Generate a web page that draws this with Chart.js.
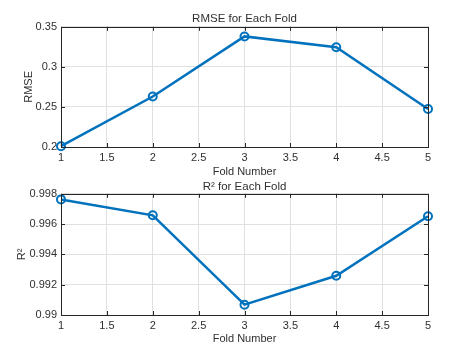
<!DOCTYPE html>
<html><head><meta charset="utf-8">
<script src="https://cdn.jsdelivr.net/npm/chart.js@4.4.0/dist/chart.umd.min.js"></script>
<style>
html,body{margin:0;padding:0;background:#fff;width:474px;height:355px;overflow:hidden;}
.box{position:absolute;left:0;width:474px;}
</style></head>
<body>
<div class="box" style="top:0;height:182px;"><canvas id="c1"></canvas></div>
<div class="box" style="top:178px;height:177px;"><canvas id="c2"></canvas></div>
<script>
const folds = [1, 2, 3, 4, 5];
const rmse = [0.201, 0.263, 0.338, 0.3245, 0.2475];
const r2 = [0.99763, 0.99658, 0.99068, 0.99259, 0.99652];
const xTicks = [1, 1.5, 2, 2.5, 3, 3.5, 4, 4.5, 5];
const xTickLabels = ['1', '1.5', '2', '2.5', '3', '3.5', '4', '4.5', '5'];
const rmseTicks = [0.2, 0.25, 0.3, 0.35];
const rmseTickLabels = ['0.2', '0.25', '0.3', '0.35'];
const r2Ticks = [0.99, 0.992, 0.994, 0.996, 0.998];
const r2TickLabels = ['0.99', '0.992', '0.994', '0.996', '0.998'];

const FONT = "'Liberation Sans', Arial, Helvetica, sans-serif";
const TXT = '#303030';
const BLUE = '#0072BD';

const boxPlugin = {
  id: 'boxPlugin',
  afterLayout(chart) {
    const tb = chart.titleBlock, a = chart.chartArea;
    if (tb) { tb.left = a.left; tb.right = a.right; tb.width = a.right - a.left; }
  },
  afterDraw(chart) {
    const {ctx, chartArea: a, scales} = chart;
    ctx.save();
    ctx.strokeStyle = '#262626';
    ctx.lineWidth = 1;
    const tl = 4;
    ctx.beginPath();
    scales.x.ticks.forEach(t => {
      const px = Math.round(scales.x.getPixelForValue(t.value)) + 0.5;
      ctx.moveTo(px, a.bottom); ctx.lineTo(px, a.bottom - tl);
      ctx.moveTo(px, a.top); ctx.lineTo(px, a.top + tl);
    });
    scales.y.ticks.forEach(t => {
      const py = Math.round(scales.y.getPixelForValue(t.value)) + 0.5;
      ctx.moveTo(a.left, py); ctx.lineTo(a.left + tl, py);
      ctx.moveTo(a.right, py); ctx.lineTo(a.right - tl, py);
    });
    ctx.stroke();
    ctx.strokeRect(Math.round(a.left) + 0.5, Math.round(a.top) + 0.5,
                   Math.round(a.right - a.left), Math.round(a.bottom - a.top));
    ctx.restore();
  }
};

function makeChart(id, title, yTitle, values, yTicks, yLabels, cfg) {
  const yMin = yTicks[0], yMax = yTicks[yTicks.length - 1];
  return new Chart(document.getElementById(id), {
    type: 'scatter',
    data: {
      datasets: [{
        data: folds.map((f, i) => ({x: f, y: values[i]})),
        showLine: true,
        borderColor: BLUE,
        borderWidth: 2.5,
        pointRadius: 4,
        pointBorderWidth: 2,
        pointBorderColor: BLUE,
        pointBackgroundColor: 'rgba(0,0,0,0)',
        clip: false
      }]
    },
    options: {
      responsive: true,
      maintainAspectRatio: false,
      animation: false,
      layout: {padding: {left: 0, right: 46, top: 0, bottom: 0}},
      plugins: {
        legend: {display: false},
        tooltip: {enabled: false},
        title: {
          display: true, text: title, color: TXT,
          font: {family: FONT, size: 11.5, weight: 'normal'},
          padding: cfg.titlePad
        }
      },
      scales: {
        x: {
          type: 'linear', min: 1, max: 5,
          afterBuildTicks: s => { s.ticks = xTicks.map(v => ({value: v})); },
          afterFit: s => { s.height = cfg.xHeight; },
          ticks: {
            color: TXT, font: {family: FONT, size: 11}, padding: 4,
            maxRotation: 0, autoSkip: false,
            callback: v => xTickLabels[xTicks.indexOf(v)]
          },
          grid: {color: '#e0e0e0', drawTicks: false},
          border: {display: false},
          title: {
            display: true, text: 'Fold Number', color: TXT,
            font: {family: FONT, size: 11}, padding: {top: 0, bottom: cfg.xTitleBottom}
          }
        },
        y: {
          type: 'linear', min: yMin, max: yMax,
          afterBuildTicks: s => { s.ticks = yTicks.map(v => ({value: v})); },
          afterFit: s => { s.width = 61; },
          ticks: {
            color: TXT, font: {family: FONT, size: 11}, padding: 4, autoSkip: false,
            callback: v => yLabels[yTicks.indexOf(v)]
          },
          grid: {color: '#e0e0e0', drawTicks: false},
          border: {display: false},
          title: {
            display: true, text: yTitle, color: TXT,
            font: {family: FONT, size: 11}, padding: {top: cfg.yTitleTop, bottom: 0}
          }
        }
      }
    },
    plugins: [boxPlugin]
  });
}

makeChart('c1', 'RMSE for Each Fold', 'RMSE', rmse, rmseTicks, rmseTickLabels,
  {titlePad: {top: 12, bottom: 1}, xHeight: 35, xTitleBottom: 3, yTitleTop: 22});
makeChart('c2', 'R\u00B2 for Each Fold', 'R\u00B2', r2, r2Ticks, r2TickLabels,
  {titlePad: {top: 2, bottom: 0}, xHeight: 40, xTitleBottom: 9, yTitleTop: 15});
</script>
</body></html>
